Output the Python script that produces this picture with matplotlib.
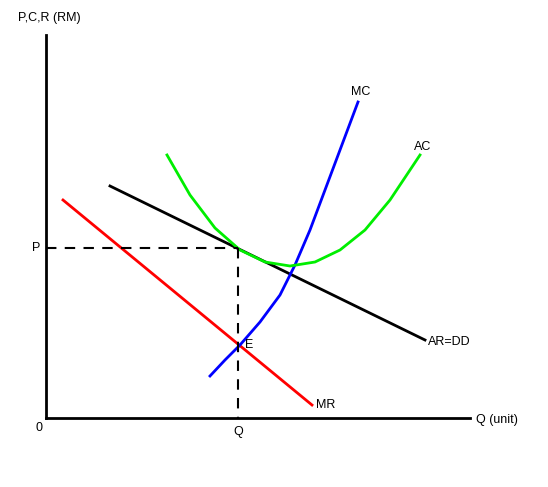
import matplotlib
matplotlib.use("Agg")
import matplotlib.pyplot as plt

# Curve points (pixel-space coordinates of the diagram)
ar_x = [110, 425]; ar_y = [186, 340]
mr_x = [63, 312]; mr_y = [200, 405]
mc_x = [210, 225, 240, 260, 280, 295, 310, 325, 340, 358]
mc_y = [376, 360, 345, 322, 295, 265, 230, 190, 150, 102]
ac_x = [167, 190, 215, 240, 265, 290, 315, 340, 365, 390, 420]
ac_y = [155, 195, 228, 250, 262, 266, 262, 250, 230, 200, 155]
p_level = 248
q_level = 238
origin = (46, 418)

fig = plt.figure(figsize=(5.48, 4.87), dpi=100)
ax = fig.add_axes([0, 0, 1, 1])
ax.set_xlim(0, 548); ax.set_ylim(487, 0); ax.axis('off')
fs = 9
fam = 'Liberation Sans'

ax.plot([origin[0], origin[0]], [35, origin[1]], color='black', lw=2)
ax.plot([origin[0], 470], [origin[1], origin[1]], color='black', lw=2)
ax.plot(ar_x, ar_y, color='black', lw=2)
ax.plot(mr_x, mr_y, color='red', lw=2)
ax.plot(mc_x, mc_y, color='blue', lw=2)
ax.plot(ac_x, ac_y, color='#00ee00', lw=2)
ax.plot([origin[0], q_level], [p_level, p_level], color='black', lw=1.5, ls=(0, (5, 4)))
ax.plot([q_level, q_level], [p_level, origin[1]], color='black', lw=1.5, ls=(0, (5, 4)))

for s, x, y, ha in [("P,C,R (RM)", 18, 18, 'left'), ("P", 32, 248, 'left'), ("0", 36, 428, 'left'),
                    ("Q", 238, 432, 'center'), ("Q (unit)", 476, 420, 'left'), ("MC", 351, 92, 'left'),
                    ("AC", 414, 147, 'left'), ("AR=DD", 428, 342, 'left'), ("MR", 316, 405, 'left'),
                    ("E", 245, 345, 'left')]:
    ax.text(x, y, s, fontsize=fs, family=fam, ha=ha, va='center')

fig.savefig("out.png", dpi=100)
